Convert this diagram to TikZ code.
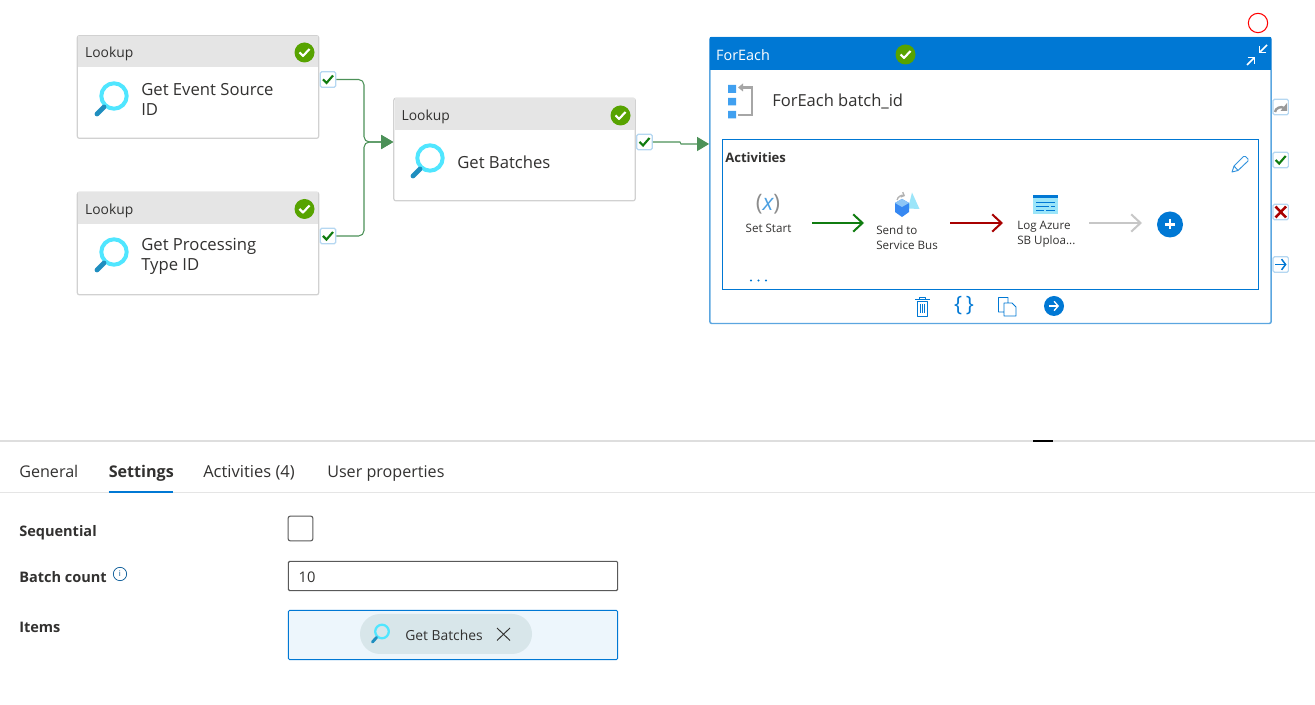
\documentclass[tikz,border=0pt]{standalone}
\usepackage{fontspec}
\setmainfont{Open Sans}
\usetikzlibrary{positioning,arrows.meta}
\definecolor{azblue}{HTML}{0078D4}
\definecolor{azedge}{HTML}{5BA6E0}
\definecolor{okgreen}{HTML}{57A300}
\definecolor{tickgreen}{HTML}{107C10}
\definecolor{wiregreen}{HTML}{4C9158}
\definecolor{failred}{HTML}{A80000}
\definecolor{ringcyan}{HTML}{50E6FF}
\definecolor{stemblue}{HTML}{1F8EBF}
\definecolor{inktext}{HTML}{323130}
\definecolor{skyfill}{HTML}{9BE5F9}
\definecolor{chipfill}{HTML}{D8E6EA}
\definecolor{stepblue}{HTML}{40A0F0}

\begin{document}
\begin{tikzpicture}[x=0.75pt,y=-0.75pt,
    card/.style={rectangle,draw=black!18,fill=white,rounded corners=1.5pt,line width=.9pt,
		minimum width=181pt,minimum height=77pt,inner sep=0pt},
    headbar/.style={rectangle,fill=black!10,anchor=north,
		minimum width=180pt,minimum height=23.6pt,inner sep=0pt},
    titletxt/.style={text=inktext,inner sep=0pt,font=\fontsize{10.4}{12}\selectfont},
    nametxt/.style={text=inktext,inner sep=0pt,anchor=west,align=left,
		font=\fontsize{12.5}{15.5}\selectfont},
    smalltxt/.style={text=inktext,inner sep=0pt,anchor=west,align=left,
		font=\fontsize{8.7}{11.2}\selectfont},
    tabtxt/.style={text=inktext,inner sep=0pt,anchor=base west,font=\fontsize{12.1}{14}\selectfont},
    fieldtxt/.style={text=inktext,inner sep=0pt,anchor=base west,font=\bfseries\fontsize{10.9}{13}\selectfont},
    okdot/.style={circle,fill=okgreen,minimum size=15pt,inner sep=0pt},
    handle/.style={rectangle,draw=azedge!45,fill=white,rounded corners=1pt,line width=.9pt,
		minimum size=11.5pt,inner sep=0pt},
    iconline/.style={draw=azblue,line width=.65pt,line join=round},
    wire/.style={draw=wiregreen,line width=.8pt,rounded corners=4pt,
		-{Triangle[length=9pt,width=10.5pt]}},
    runarrow/.style={line width=1.5pt,-{Straight Barb[length=7pt,width=13pt]}},
% Small icons
    tick/.pic={\draw[white,line width=1.6pt,line join=round] (-5,0) -- (-1.5,3.5) -- (5,-3.5);},
    handtick/.pic={\draw[tickgreen,line width=1.6pt] (-5,0) -- (-1.5,3.5) -- (5,-4);},
    magglass/.pic={\draw[ringcyan,line width=3pt] (0,0) circle (12.7);
		\draw[stemblue,line width=3.6pt,line cap=round] (-10,11) -- (-17,18);},
    miniglass/.pic={\draw[ringcyan,line width=1.7pt] (0,0) circle (6.8);
		\draw[stemblue,line width=2.2pt,line cap=round] (-5.5,6) -- (-9.5,10.5);},
    ]
   \useasboundingbox (0,0) rectangle (1315,705);
%%% Lookup cards
   \node [card] (card1) at (198,87) {};
   \node [headbar] (head1) at ([yshift=-.4pt]card1.north) {};
   \node [titletxt] (title1) [right=5.3pt of head1.west,yshift=-2pt] {Lookup};
   \node [okdot] (ok1) at (304.5,52.5) {};
   \pic at (ok1) {tick};
   \pic at (114,96) {magglass};
   \node [nametxt] (name1) at (141,99.5) {Get Event Source\\ID};
   \node [handle] (chk1) at (328,79.5) {};
   \pic at (chk1) {handtick};

   \node [card] (card2) at (198,243.5) {};
   \node [headbar] (head2) at ([yshift=-.4pt]card2.north) {};
   \node [titletxt] (title2) [right=5.3pt of head2.west,yshift=-2pt] {Lookup};
   \node [okdot] (ok2) at (304.5,209) {};
   \pic at (ok2) {tick};
   \pic at (114,252) {magglass};
   \node [nametxt] (name2) at (141,256.5) {Get Processing\\Type ID};
   \node [handle] (chk2) at (328,236) {};
   \pic at (chk2) {handtick};

   \node [card] (card3) at (514.5,149.5) {};
   \node [headbar] (head3) at ([yshift=-.4pt]card3.north) {};
   \node [titletxt] (title3) [right=5.3pt of head3.west,yshift=-2pt] {Lookup};
   \node [okdot] (ok3) at (620.5,115.5) {};
   \pic at (ok3) {tick};
   \pic at (430,158) {magglass};
   \node [nametxt] (name3) at (457,162.5) {Get Batches};
   \node [handle] (chk3) at (644.5,142) {};
   \pic at (chk3) {handtick};

%%% Connectors between the cards
   \coordinate (join) at (364,142);
   \coordinate (step) at (681,144);
   \draw [wire] (chk1.east) -| (join) -- (card3.west |- join);
   \draw [wire] (chk2.east) -| (join) -- (card3.west |- join);

%%% ForEach frame
   \node [rectangle,draw=azedge,fill=white,line width=1.1pt,rounded corners=1.5pt,
		minimum width=421pt,minimum height=214.5pt,inner sep=0pt] (loop) at (990.5,180.5) {};
   \node [rectangle,fill=azblue,anchor=north,minimum width=420.5pt,minimum height=24.4pt,
		inner sep=0pt] (loophead) at (loop.north) {};
   \node [titletxt,text=white,font=\fontsize{10.8}{12}\selectfont] (looptitle) [right=4.5pt of loophead.west,yshift=-1.5pt] {ForEach};
   \node [okdot] (okloop) at (905.5,54.5) {};
   \pic at (okloop) {tick};
   \draw [white,line width=1.1pt,-{Straight Barb[length=3.5pt,width=7pt]}] (1267,45) -- (1259,53);
   \draw [white,line width=1.1pt,-{Straight Barb[length=3.5pt,width=7pt]}] (1247,65) -- (1255,57);
   \draw [wire,rounded corners=0pt] (chk3.east) -- (680,142) -- (step) -- (loop.west |- step);
   \fill [stepblue] (728,85) rectangle (736,93) (728,98) rectangle (736,105.5) (728,111) rectangle (736,118.5);
   \draw [black!35,line width=2.2pt] (740,87.5) -- (752,87.5) -- (752,115) -- (737.5,115);
   \fill [black!35] (738,87.5) -- (743,83.5) -- (743,91.5) -- cycle;
   \node [nametxt,font=\fontsize{12.4}{14}\selectfont] (loopname) at (772,101.5) {ForEach batch\_id};
   \node [circle,draw=red,line width=.8pt,minimum size=14.5pt,inner sep=0pt] (mark) at (1258,23) {};

%%% Activities box
   \node [rectangle,draw=azblue,line width=.9pt,fill=white,minimum width=402.5pt,minimum height=112pt,
		inner sep=0pt] (inner) at (990.5,214.5) {};
   \node [fieldtxt,font=\bfseries\fontsize{9.8}{12}\selectfont] (innertitle) at (725,162.5) {Activities};
   \draw [azblue!80,line width=.7pt,line join=round] (1232,172) -- (1234,166) -- (1243.5,156.5)
		-- (1245.5,156.5) -- (1248,159) -- (1248,161) -- (1238,170.5) -- cycle (1234,166) -- (1238,170.5);
   \node [inner sep=0pt,font=\fontsize{17}{20}\selectfont] (varicon) at (768,204)
		{\textcolor{black!45}{(}\textcolor{azblue!70}{\itshape x}\textcolor{black!45}{)}};
   \node [smalltxt,anchor=center] (setstart) at (768.5,228) {Set Start};
   \coordinate (ok1a) at (812,223);
   \coordinate (ok1b) at (864,223);
   \draw [runarrow,tickgreen] (ok1a) -- (ok1b);
%  Send to Service Bus
   \fill [skyfill] (912,192.5) -- (919.5,209) -- (908,208.5) -- cycle;
   \fill [stepblue!85!blue] (895,203) -- (902,199) -- (909,203) -- (909,212) -- (902,217) -- (895,212) -- cycle;
   \fill [stepblue!60] (895,203) -- (902,199) -- (909,203) -- (902,207) -- cycle;
   \draw [black!30,line width=1pt,-{Straight Barb[length=2pt,width=4pt]}] (897,200) to[bend left=50] (905,196);
   \node [smalltxt] (sendto) at (876,237.5) {Send to\\Service Bus};
   \coordinate (fail1a) at (950,223);
   \coordinate (fail1b) at (1003,223);
   \draw [runarrow,failred] (fail1a) -- (fail1b);
%  Log Azure
   \fill [skyfill] (1033,195) rectangle (1058,214);
   \fill [azblue] (1033,195) rectangle (1058,198.5);
   \draw [azblue,line width=.8pt] (1036,202.5) -- (1055,202.5) (1036,206.5) -- (1049,206.5)
		(1051,206.5) -- (1055,206.5) (1036,210.5) -- (1044,210.5) (1046,210.5) -- (1055,210.5);
   \node [smalltxt] (logazure) at (1017,234.5) {Log Azure\\SB Uploa...};
   \coordinate (next1a) at (1089,223);
   \coordinate (next1b) at (1142,223);
   \draw [runarrow,black!22] (next1a) -- (next1b);
   \node [circle,fill=azblue,minimum size=19.5pt,inner sep=0pt] (addbtn) at (1170,224.5) {};
   \draw [white,line width=1.6pt] (1165,224.5) -- (1175,224.5) (1170,219.5) -- (1170,229.5);
   \fill [azblue] (751,280.5) circle (1.1) (758.5,280.5) circle (1.1) (766,280.5) circle (1.1);

%%% Toolbar under the activities
   \draw [iconline] (917,301) rectangle (927.5,316) (915,299.5) -- (929.5,299.5)
		(919.5,299.5) -- (919.5,297) -- (925,297) -- (925,299.5)
		(920,304) -- (920,313) (922.3,304) -- (922.3,313) (924.6,304) -- (924.6,313);
   \node [inner sep=0pt,text=azblue,font=\fontsize{16}{18}\selectfont] (bracesicon) at (964,306) {\{\,\}};
   \draw [iconline] (1003.5,312) -- (998.5,312) -- (998.5,297.5) -- (1008,297.5) -- (1008,303)
		(1004,303) -- (1012,303) -- (1016,307) -- (1016,316) -- (1004,316) -- cycle;
   \node [circle,fill=azblue,minimum size=15pt,inner sep=0pt] (gobtn) at (1054,306) {};
   \draw [white,line width=1pt,-{Straight Barb[length=3pt,width=7pt]}] (gobtn.center) ++(-5,0) -- ++(10,0);

%%% Handles on the right of the frame
   \node [handle] (skipbtn) at (1280.7,107) {};
   \draw [black!40,line width=1.8pt] (1275,112) to[bend left=60] (1284,108);
   \fill [black!40] (1287,103) -- (1287,111) -- (1280.5,111) -- cycle;
   \node [handle] (chk4) at (1280.7,160) {};
   \pic at (chk4) {handtick};
   \node [handle] (failbtn) at (1280.7,212) {};
   \draw [failred,line width=1.9pt] (1275.5,206.5) -- (1286,217.5) (1286,206.5) -- (1275.5,217.5);
   \node [handle] (nextbtn) at (1280.7,264.5) {};
   \draw [azblue,line width=1.1pt,-{Straight Barb[length=3pt,width=8pt]}] (1275,264.5) -- (1286.5,264.5);

%%% Settings panel
   \coordinate (rule1) at (0,441.5);
   \coordinate (rule2) at (0,492.5);
   \draw [black!13,line width=1.5pt] (rule1) -- (1315,441.5);
   \draw [black,line width=1.5pt] (1033,441.5) -- (1053,441.5);
   \draw [black!10,line width=.8pt] (rule2) -- (1315,492.5);
   \node [tabtxt] (tabgen) at (19,477.5) {General};
   \node [tabtxt,font=\bfseries\fontsize{12.1}{14}\selectfont] (tabset) at (108.5,477.5) {Settings};
   \node [tabtxt,font=\fontsize{12.4}{14}\selectfont] (tabact) at (203,477.5) {Activities (4)};
   \node [tabtxt] (tabusr) at (327,477.5) {User properties};
   \draw [azblue,line width=1.6pt] (108.5,492) -- (173,492);

   \node [fieldtxt] (labseq) at (19,537) {Sequential};
   \node [rectangle,draw=black!65,rounded corners=1.5pt,line width=.8pt,minimum size=18.5pt,
		inner sep=0pt] (seqbox) at (300.5,528.5) {};
   \node [fieldtxt] (labbatch) at (19,583) {Batch count};
   \node [circle,draw=azblue!70!black,line width=.5pt,minimum size=10pt,inner sep=0pt,
		font=\fontsize{6}{7}\selectfont,text=azblue!70!black] (infobtn) at (120,574) {i};
   \node [rectangle,draw=black!65,rounded corners=1pt,line width=.8pt,minimum width=247pt,
		minimum height=22pt,inner sep=0pt] (batchbox) at (453,576) {};
   \node [tabtxt,anchor=west,font=\fontsize{11}{13}\selectfont] (batchval) [right=8pt of batchbox.west,yshift=-1pt] {10};
   \node [fieldtxt] (labitems) at (19,633) {Items};
   \node [rectangle,draw=azblue,fill=azblue!7,rounded corners=1pt,line width=.7pt,minimum width=247pt,
		minimum height=37pt,inner sep=0pt] (itemsbox) at (453,635) {};
   \node [rectangle,fill=chipfill,rounded corners=15pt,minimum width=129pt,minimum height=30pt,
		inner sep=0pt] (chip) at (446,634) {};
   \pic at (382,631.5) {miniglass};
   \node [smalltxt,font=\fontsize{10.4}{12}\selectfont] (chiptxt) at (405,635.5) {Get Batches};
   \draw [inktext,line width=.7pt] (497,628) -- (510,640.5) (510,628) -- (497,640.5);
\end{tikzpicture}
\end{document}
